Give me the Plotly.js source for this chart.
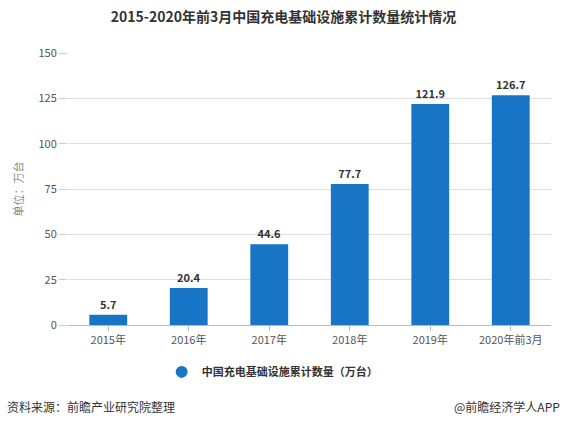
<!DOCTYPE html>
<html>
<head>
<meta charset="utf-8">
<script src="https://cdn.plot.ly/plotly-3.0.1.min.js"></script>
<style>html,body{margin:0;padding:0;background:#fff;}#chart{width:567px;height:425px;}</style>
</head>
<body>
<div id="chart"></div>
<script>
const categories = ['2015年', '2016年', '2017年', '2018年', '2019年', '2020年前3月'];
const values = [5.7, 20.4, 44.6, 77.7, 121.9, 126.7];
const yTicks = [0, 25, 50, 75, 100, 125, 150];
const seriesName = '中国充电基础设施累计数量（万台）';
const titleText = '2015-2020年前3月中国充电基础设施累计数量统计情况';
const yTitle = '单位：万台';
const sourceText = '资料来源：前瞻产业研究院整理';
const brandText = '@前瞻经济学人APP';

const barColor = '#1875C5';
const font = '"Microsoft YaHei", "Noto Sans CJK SC", "Liberation Sans", sans-serif';

const traces = [
  {
    type: 'bar',
    x: categories,
    y: values,
    marker: {color: barColor},
    text: values.map(v => v.toFixed(1)),
    textposition: 'outside',
    textfont: {family: font, size: 11, color: '#333', weight: 'bold'},
    cliponaxis: false,
    showlegend: false,
    hoverinfo: 'none'
  },
  {
    type: 'scatter',
    mode: 'markers',
    x: [categories[0]],
    y: [null],
    name: seriesName,
    marker: {color: barColor, size: 12, symbol: 'circle'},
    showlegend: true,
    hoverinfo: 'none'
  }
];

const layout = {
  width: 567,
  height: 425,
  margin: {l: 68, r: 16, t: 53, b: 100},
  paper_bgcolor: '#fff',
  plot_bgcolor: '#fff',
  font: {family: font, color: '#555'},
  title: {
    text: titleText,
    font: {family: font, size: 14, color: '#333', weight: 'bold'},
    x: 0.5, xanchor: 'center', xref: 'container',
    y: 0.96, yanchor: 'middle', yref: 'container'
  },
  bargap: 0.53,
  xaxis: {
    type: 'category',
    showline: true,
    linecolor: '#bbb',
    linewidth: 1,
    ticks: 'outside',
    tickcolor: '#bbb',
    ticklen: 5,
    tickfont: {family: font, size: 11, color: '#555'},
    showgrid: false,
    fixedrange: true
  },
  yaxis: {
    range: [0, 150],
    tickvals: yTicks,
    ticks: 'outside',
    tickcolor: '#ccc',
    ticklen: 8,
    tickfont: {family: font, size: 11, color: '#555'},
    gridcolor: '#ddd',
    gridwidth: 1,
    zeroline: false,
    showline: false,
    title: {text: yTitle, font: {family: font, size: 11, color: '#888'}, standoff: 12},
    fixedrange: true
  },
  showlegend: true,
  legend: {
    orientation: 'h',
    xref: 'container', yref: 'container',
    x: 0.48, xanchor: 'center',
    y: 0.125, yanchor: 'middle',
    itemwidth: 30,
    font: {family: font, size: 11, color: '#333', weight: 'bold'},
    itemclick: false
  },
  annotations: [
    {text: sourceText, xref: 'paper', yref: 'paper', x: -0.13, y: -0.298,
     xanchor: 'left', yanchor: 'middle', showarrow: false,
     font: {family: font, size: 12, color: '#333'}},
    {text: brandText, xref: 'paper', yref: 'paper', x: 1.023, y: -0.298,
     xanchor: 'right', yanchor: 'middle', showarrow: false,
     font: {family: font, size: 12, color: '#333'}}
  ]
};

Plotly.newPlot('chart', traces, layout, {displayModeBar: false, staticPlot: true});
</script>
</body>
</html>
